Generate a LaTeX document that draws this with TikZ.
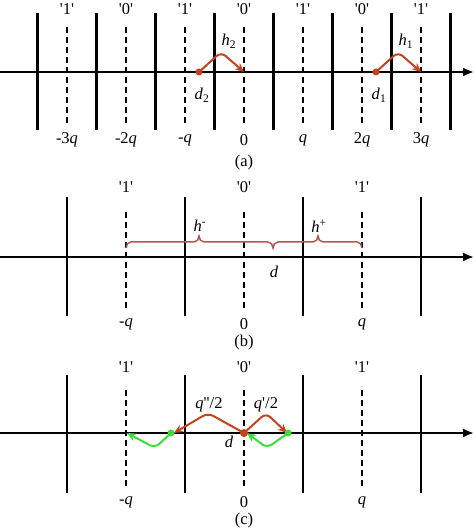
\documentclass[tikz,border=0pt]{standalone}
\usepackage{fontspec}
\setmainfont{Liberation Serif}
\usetikzlibrary{arrows.meta}

\definecolor{hopred}{HTML}{C4421C}
\definecolor{bracered}{HTML}{B85450}
\definecolor{backgreen}{HTML}{3ADF3A}

\newcommand{\tick}{\textquotesingle}

\tikzset{
	wall/.style={line width=2.4pt},
	centre/.style={line width=2.4pt, dash pattern=on 6pt off 4pt},
	axis/.style={line width=2pt, -{Latex[length=11pt,width=9pt]}},
	hop/.style={hopred, line width=2pt, rounded corners=6pt, -{Stealth[length=9pt,width=8pt]}},
	back/.style={backgreen, line width=2pt, rounded corners=6pt, -{Stealth[length=9pt,width=8pt]}},
	lbl/.style={font=\fontsize{16.5}{19}\selectfont, inner sep=0pt},
}

\begin{document}
\begin{tikzpicture}[x=1pt,y=1pt]
			\useasboundingbox (0,0) rectangle (474,530);
			% (a)
			\coordinate (axa) at (0,458);
			\coordinate (axaend) at (474,458);
			\foreach \x in {37.5,96.5,155.5,214.5,273.5,332.5,391.5,450.5}
				\draw [wall] (\x,400)--(\x,517);
			\foreach \x/\bit/\val [count=\i] in {67/1/-3\textit{q}, 126/0/-2\textit{q}, 185/1/-\textit{q}, 244/0/0, 303/1/\textit{q}, 362/0/2\textit{q}, 421/1/3\textit{q}} {
				\draw [centre] (\x,407)--(\x,506);
				\node [lbl] (bita\i) at (\x,521) {\tick\bit\tick};
				\node [lbl] (posa\i) at (\x,390) {\val};
			}
			\draw [axis] (axa)--(axaend);
			\coordinate (dtwo) at (199,458);
			\coordinate (zeroa) at (244,458);
			\coordinate (done) at (376,458);
			\coordinate (threea) at (421,458);
			\draw [hop] (dtwo)--(221,478)--(zeroa);
			\draw [hop] (done)--(398,478)--(threea);
			\fill [hopred] (dtwo) circle (3.5);
			\fill [hopred] (done) circle (3.5);
			\node [lbl] (htwo) at (229,489) {\textit{h}\textsubscript{2}};
			\node [lbl] (hone) at (406,489) {\textit{h}\textsubscript{1}};
			\node [lbl] (dtwolbl) at (202,435) {\textit{d}\textsubscript{2}};
			\node [lbl] (donelbl) at (379,435) {\textit{d}\textsubscript{1}};
			\node [lbl] (capa) at (244,367) {(a)};

			% (b)
			\coordinate (axb) at (0,273);
			\coordinate (axbend) at (474,273);
			\foreach \x in {67,185,303,421}
				\draw [wall] (\x,214)--(\x,333);
			\foreach \x/\bit/\val [count=\i] in {126/1/-\textit{q}, 244/0/0, 362/1/\textit{q}} {
				\draw [centre] (\x,222)--(\x,321);
				\node [lbl] (bitb\i) at (\x,343) {\tick\bit\tick};
				\node [lbl] (posb\i) at (\x,206) {\val};
			}
			\draw [axis] (axb)--(axbend);
			\draw [bracered, line width=1.5pt] (126,282) to[out=90,in=180] (131,288)--(194,288)
				to[out=0,in=-90] (199,294) to[out=-90,in=180] (204,288)--(268,288)
				to[out=0,in=90] (273,282) to[out=90,in=180] (278,288)--(313,288)
				to[out=0,in=-90] (318,294) to[out=-90,in=180] (323,288)--(357,288)
				to[out=0,in=90] (362,282);
			\node [lbl] (hminus) at (200,304) {\textit{h}\textsuperscript{-}};
			\node [lbl] (hplus) at (319,304) {\textit{h}\textsuperscript{+}};
			\node [lbl] (dlblb) at (274,258) {\textit{d}};
			\node [lbl] (capb) at (244,187) {(b)};

			% (c)
			\coordinate (axc) at (0,97);
			\coordinate (axcend) at (474,97);
			\foreach \x in {67,185,303,421}
				\draw [wall] (\x,37)--(\x,155);
			\foreach \x/\bit/\val [count=\i] in {126/1/-\textit{q}, 244/0/0, 362/1/\textit{q}} {
				\draw [centre] (\x,44)--(\x,144);
				\node [lbl] (bitc\i) at (\x,163) {\tick\bit\tick};
				\node [lbl] (posc\i) at (\x,28) {\val};
			}
			\draw [axis] (axc)--(axcend);
			\coordinate (dc) at (244,97);
			\coordinate (gleft) at (171,97);
			\coordinate (gright) at (288,97);
			\coordinate (minusc) at (127,97);
			\draw [back] (gright)--(267,82)--(247,97);
			\draw [back] (gleft)--(155,82)--(minusc);
			\draw [hop] (dc)--(208,117)--(174,97);
			\draw [hop] (dc)--(266,117)--(287,97);
			\fill [hopred] (dc) circle (4);
			\fill [backgreen] (gleft) circle (3.5);
			\fill [backgreen] (gright) circle (3.5);
			\node [lbl] (qpp) at (209,125) {\textit{q}\tick\tick/2};
			\node [lbl] (qp) at (266,125) {\textit{q}\tick/2};
			\node [lbl] (dlblc) at (229,88) {\textit{d}};
			\node [lbl] (capc) at (244,9) {(c)};
		\end{tikzpicture}
\end{document}
